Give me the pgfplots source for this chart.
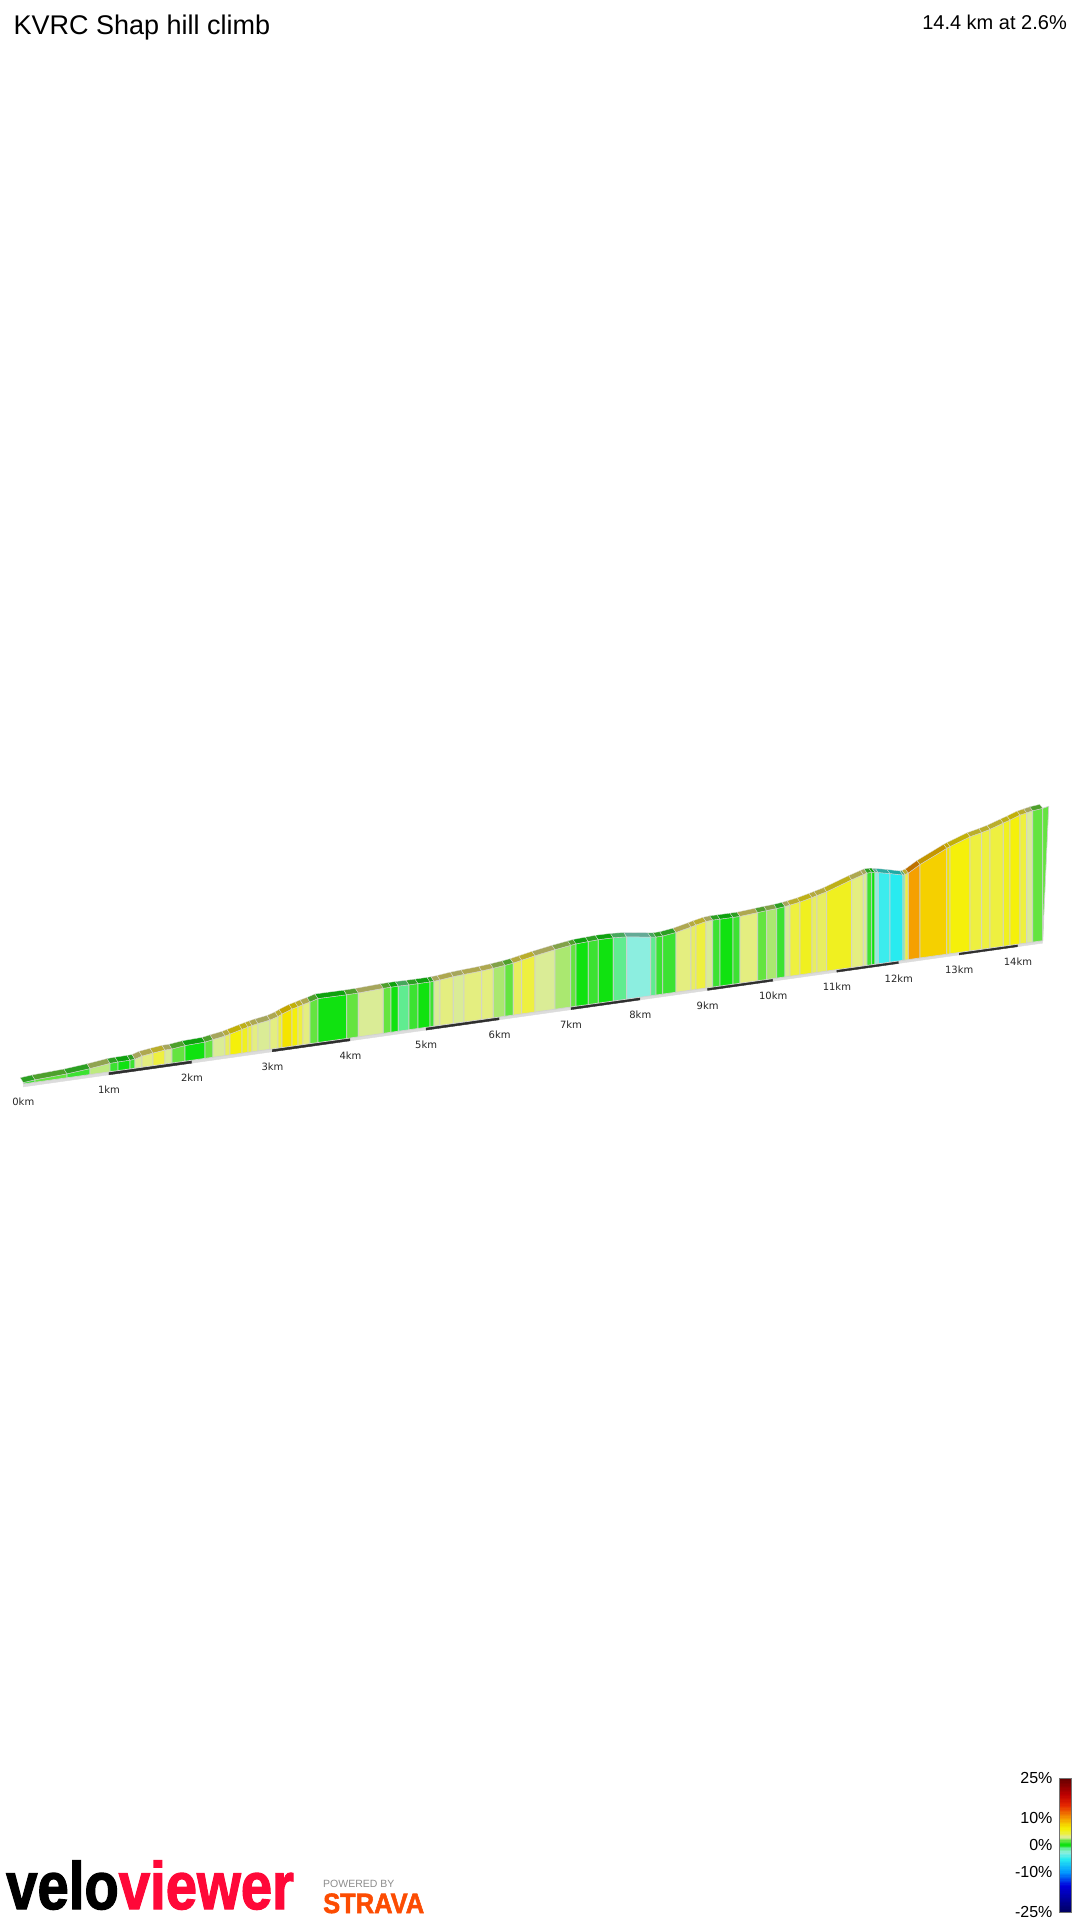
\documentclass[border=0pt]{standalone}
\usepackage{pgfplots}
\usepackage{pgfplotstable}
\pgfplotsset{compat=1.18}
\usepackage{graphicx}
\usepackage{fontspec}
\setmainfont{Liberation Sans}
\newfontfamily\dejavu{DejaVu Sans}
\newfontfamily\heavy{Liberation Sans Bold}[FakeBold=2]

\definecolor{vvred}{RGB}{255,8,56}
\definecolor{stravaor}{RGB}{252,76,2}
\definecolor{poweredgrey}{RGB}{140,140,140}

\pgfplotsset{
  colormap={vv}{
    rgb255(0pt)=(0,0,96) rgb255(100pt)=(0,0,220) rgb255(150pt)=(0,150,255)
    rgb255(200pt)=(40,235,240) rgb255(225pt)=(140,238,224) rgb255(240pt)=(96,236,144)
    rgb255(250pt)=(16,224,16) rgb255(255pt)=(16,226,16) rgb255(260pt)=(60,226,50)
    rgb255(268pt)=(100,228,64) rgb255(275pt)=(170,232,112) rgb255(280pt)=(218,236,150)
    rgb255(285pt)=(228,238,128) rgb255(290pt)=(232,238,96) rgb255(295pt)=(238,240,64)
    rgb255(305pt)=(240,240,32) rgb255(310pt)=(245,240,10) rgb255(320pt)=(245,228,0)
    rgb255(330pt)=(245,208,0) rgb255(350pt)=(245,160,0) rgb255(400pt)=(230,40,0)
    rgb255(440pt)=(190,0,0) rgb255(500pt)=(100,0,0)
  },
  colormap={vd}{
    rgb255(0pt)=(0,0,65) rgb255(100pt)=(0,0,150) rgb255(150pt)=(0,111,173)
    rgb255(200pt)=(30,170,165) rgb255(225pt)=(100,170,150) rgb255(240pt)=(70,168,92)
    rgb255(250pt)=(14,160,14) rgb255(255pt)=(14,162,14) rgb255(260pt)=(44,160,34)
    rgb255(268pt)=(78,160,44) rgb255(275pt)=(130,162,72) rgb255(280pt)=(166,166,92)
    rgb255(285pt)=(174,168,80) rgb255(290pt)=(180,170,62) rgb255(295pt)=(186,174,44)
    rgb255(305pt)=(190,176,24) rgb255(310pt)=(194,176,8) rgb255(320pt)=(196,166,0)
    rgb255(330pt)=(196,150,0) rgb255(350pt)=(190,114,0) rgb255(400pt)=(180,30,0)
    rgb255(440pt)=(150,0,0) rgb255(500pt)=(80,0,0)
  },
  colormap={strip}{rgb255(0pt)=(46,46,46) rgb255(1pt)=(220,220,220)},
  segstyle/.style={patch, patch type=rectangle, shader=faceted, faceted color=black!18,
    line width=0.7pt, point meta=explicit, colormap name=vv},
  ribstyle/.style={patch, patch type=rectangle, shader=faceted, faceted color=black!12,
    line width=0.3pt, point meta=explicit, colormap name=vd},
  stripstyle/.style={patch, patch type=rectangle, shader=flat, point meta=explicit,
    colormap name=strip},
  cbarstyle/.style={patch, patch type=rectangle, shader=flat, point meta=explicit,
    colormap name=vv},
}

% distance (km), elevation above the base (m), gradient colour class (%)
\pgfplotstableread{
d e g
0.000 3.2 1
0.135 5.8 1.8
0.506 9.3 1
0.776 14.1 2.7
1.012 19.8 1
1.107 20.5 0.5
1.250 20.8 1
1.310 21.3 3
1.394 26.6 3.5
1.526 30.1 4.5
1.671 33.3 3
1.756 33.6 1.8
1.915 37.4 0.5
2.160 39.2 1.8
2.258 42.6 3
2.407 47.1 4
2.469 50.2 6
2.618 57.6 5.5
2.693 61.2 4.5
2.743 63.5 3.5
2.818 66.4 3
2.969 70.9 3.5
3.070 76.8 4.5
3.121 81.6 7
3.248 90.5 6
3.324 94.2 4.5
3.388 97.9 3.5
3.477 101.8 1.8
3.580 107.7 0.5
3.951 107.8 1.8
4.102 108.4 3
4.430 111.7 1.8
4.532 112.2 0.5
4.628 112.4 -1
4.771 112.0 1
4.891 112.2 0.5
5.051 112.4 1
5.105 112.8 3
5.186 114.0 3.5
5.366 118.0 3
5.511 120.0 3.5
5.753 123.0 3.5
5.912 126.0 2.5
6.074 129.5 1.8
6.189 132.5 4
6.306 137.0 4.5
6.492 144.0 3
6.773 153.0 2.5
6.996 159.0 1.8
7.071 161.0 0.5
7.247 163.0 1
7.390 164.5 0.5
7.607 164.5 -1
7.801 162.5 -2.5
8.152 153.9 -1
8.230 152.1 1
8.329 152.5 1
8.526 157.5 3.5
8.750 166.7 4
8.824 170.3 4.5
8.975 176.2 3
9.076 177.9 1
9.186 177.9 0.5
9.383 178.2 1
9.490 178.5 3.5
9.761 182.8 1.8
9.900 185.1 2.5
10.054 187.1 1
10.183 189.7 3
10.261 192.0 4.5
10.418 196.8 5.5
10.606 204.9 4
10.685 208.7 4
10.838 215.7 5.5
11.236 240.1 3.5
11.423 250.5 3
11.482 253.4 1
11.558 253.8 0.5
11.611 252.7 -2.5
11.665 251.0 -4.5
11.855 244.4 -5
12.067 235.9 -1.5
12.100 236.6 4.5
12.154 239.6 10
12.347 259.3 8
12.790 295.6 7
12.846 299.5 6
13.182 320.5 4.5
13.380 328.5 4.5
13.521 334.9 4.5
13.748 348.4 5.5
13.863 354.8 6
14.035 365.8 4.5
14.151 370.0 3
14.255 374.0 1.8
14.429 377.7 1.8
}\prof

\pgfplotstableread{
d lab
0 0km
1 1km
2 2km
3 3km
4 4km
5 5km
6 6km
7 7km
8 8km
9 9km
10 10km
11 11km
12 12km
13 13km
14 14km
}\kms

% oblique (perspective) view of the profile: km and metres -> picture position
\newcommand\scr[2]{%
  \pgfmathsetmacro\myT{#1/(1+0.0161*#1)}%
  \pgfmathsetmacro\myF{1-0.0161*\myT}%
  \pgfmathsetmacro\myX{23.3+87.06*\myT}%
  \pgfmathsetmacro\myB{1083.9-12.23*\myT}%
  \pgfmathsetmacro\myTop{\myB-0.432*#2*\myF}%
  \pgfmathsetmacro\myRX{\myX-3}%
  \pgfmathsetmacro\myRY{\myTop-4.8*\myF}%
  \pgfmathsetmacro\myBB{\myB+3*\myF}%
}

\newcommand\kmfont{\dejavu\fontsize{10}{12}\selectfont}

% ---- build the patch lists (in the preamble, so that no stray spaces are typeset)
\pgfplotstablegetrowsof{\prof}
\pgfmathtruncatemacro\nseg{\pgfplotsretval-2}
\def\segs{}\def\ribs{}
\pgfplotsforeachungrouped \ii in {0,...,\nseg}{%
  \pgfmathtruncatemacro\jj{\ii+1}%
  \pgfplotstablegetelem{\ii}{d}\of\prof\let\dA\pgfplotsretval
  \pgfplotstablegetelem{\ii}{e}\of\prof\let\eA\pgfplotsretval
  \pgfplotstablegetelem{\ii}{g}\of\prof\let\gA\pgfplotsretval
  \pgfplotstablegetelem{\jj}{d}\of\prof\let\dB\pgfplotsretval
  \pgfplotstablegetelem{\jj}{e}\of\prof\let\eB\pgfplotsretval
  \scr{\dA}{\eA}\let\xA\myX\let\bA\myB\let\tA\myTop\let\rxA\myRX\let\ryA\myRY
  \scr{\dB}{\eB}\let\xB\myX\let\bB\myB\let\tB\myTop\let\rxB\myRX\let\ryB\myRY
  \edef\segs{\segs (\xA,\bA)[\gA] (\xB,\bB)[\gA] (\xB,\tB)[\gA] (\xA,\tA)[\gA]}%
  \edef\ribs{\ribs (\xA,\tA)[\gA] (\xB,\tB)[\gA] (\rxB,\ryB)[\gA] (\rxA,\ryA)[\gA]}%
}
% right end face of the wall (slightly slanted, as drawn in the reference)
\scr{\dB}{\eB}
\pgfmathsetmacro\myEX{\myX+6}
\pgfmathsetmacro\myET{\myTop-2}
\edef\segs{\segs (\myX,\myB)[\gA] (\myX,\myB)[\gA] (\myEX,\myET)[\gA] (\myX,\myTop)[\gA]}

\def\strips{}
\pgfplotsforeachungrouped \kk in {0,...,14}{%
  \pgfmathsetmacro\sdA{\kk}%
  \pgfmathsetmacro\sdB{min(\kk+1,14.429)}%
  \ifodd\kk\def\mA{-25}\else\def\mA{25}\fi
  \scr{\sdA}{0}\let\xA\myX\let\bA\myB\let\bbA\myBB
  \scr{\sdB}{0}\let\xB\myX\let\bB\myB\let\bbB\myBB
  \edef\strips{\strips (\xA,\bA)[\mA] (\xB,\bB)[\mA] (\xB,\bbB)[\mA] (\xA,\bbA)[\mA]}%
}

\def\cbar{}
\pgfplotsforeachungrouped \ii in {0,...,99}{%
  \pgfmathsetmacro\va{-25+0.5*\ii}%
  \pgfmathsetmacro\vb{\va+0.5}%
  \pgfmathsetmacro\vm{\va+0.25}%
  \edef\cbar{\cbar (0,\va)[\vm] (1,\va)[\vm] (1,\vb)[\vm] (0,\vb)[\vm]}%
}

\begin{document}%
\begin{tikzpicture}
\begin{axis}[
  at={(0pt,1920pt)}, anchor=origin,
  width=1080pt, height=1920pt, scale only axis,
  xmin=0, xmax=1080, ymin=0, ymax=1920, y dir=reverse,
  xtick=\empty, ytick=\empty,
  hide axis, clip=false,
  point meta min=-25, point meta max=25,
]
\edef\doplots{%
  \noexpand\addplot[stripstyle] coordinates {\strips};
  \noexpand\addplot[segstyle] coordinates {\segs};
  \noexpand\addplot[ribstyle] coordinates {\ribs};
}
\doplots

\addplot[draw=none, mark=none, nodes near coords, point meta=explicit symbolic,
  nodes near coords style={font=\kmfont, anchor=center, inner sep=0pt, text=black!85}]
  table[x expr={23.3+87.06*\thisrow{d}/(1+0.0161*\thisrow{d})},
        y expr={1083.9-12.23*\thisrow{d}/(1+0.0161*\thisrow{d})+17.5},
        meta=lab] {\kms};

\node[anchor=base west, inner sep=0pt] at (axis cs:13.5,34)
  {\fontsize{27}{31}\selectfont KVRC Shap hill climb};
\node[anchor=base east, inner sep=0pt] at (axis cs:1067,29.5)
  {\fontsize{20}{24}\selectfont 14.4 km at 2.6\%};

\node[anchor=base west, inner sep=0pt] at (axis cs:6,1909)
  {\scalebox{0.84}[1]{\heavy\fontsize{67}{67}\selectfont\textcolor{black}{velo}\textcolor{vvred}{viewer}}};
\node[anchor=base west, inner sep=0pt, text=poweredgrey] at (axis cs:323,1887)
  {\fontsize{10.5}{12}\selectfont POWERED BY};
\node[anchor=base west, inner sep=0pt, text=stravaor] at (axis cs:323,1913)
  {\scalebox{0.91}[1]{\heavy\fontsize{28}{28}\selectfont STRAVA}};
\end{axis}

\begin{axis}[
  at={(1059pt,8pt)}, anchor=south west,
  scale only axis, width=12pt, height=134pt,
  xmin=0, xmax=1, ymin=-25, ymax=25,
  xtick=\empty, ytick={-25,-10,0,10,25},
  yticklabels={-25\%,-10\%,0\%,10\%,25\%},
  major tick length=0pt,
  yticklabel style={font=\fontsize{16}{19}\selectfont, xshift=-3pt},
  axis line style={draw=black!55, line width=0.6pt},
  point meta min=-25, point meta max=25,
  axis on top,
]
\edef\docbar{\noexpand\addplot[cbarstyle] coordinates {\cbar};}
\docbar
\end{axis}
\pgfresetboundingbox
\useasboundingbox (0pt,0pt) rectangle (1080pt,1920pt);
\end{tikzpicture}%
\end{document}
